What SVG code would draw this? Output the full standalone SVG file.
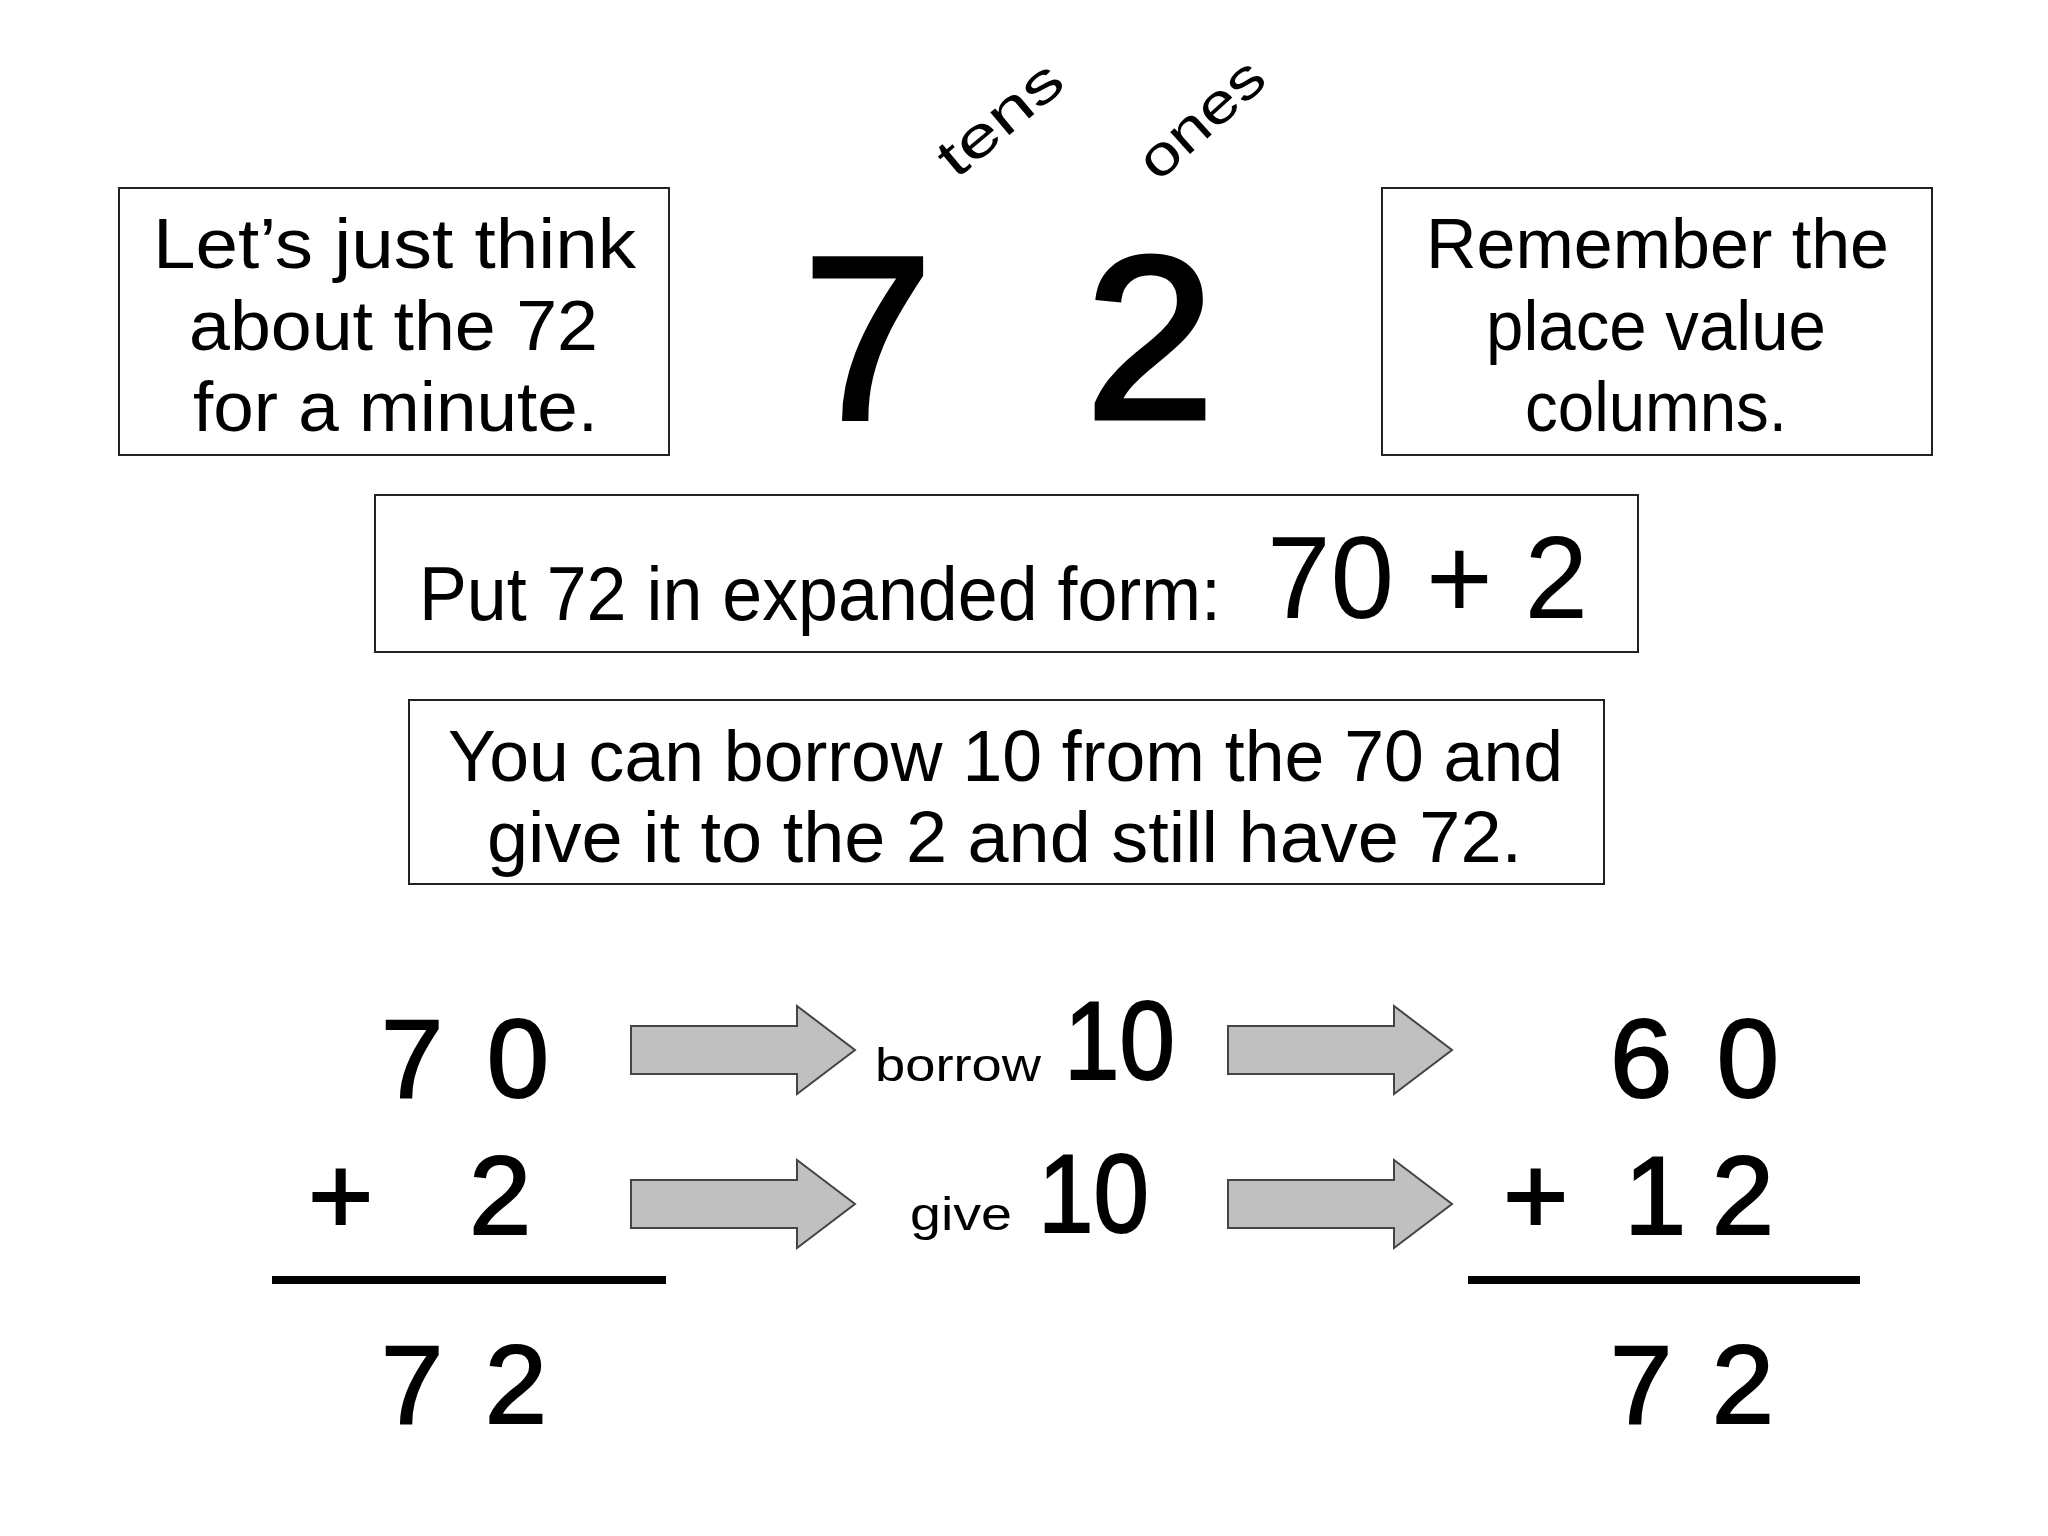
<svg xmlns="http://www.w3.org/2000/svg" width="2048" height="1536" viewBox="0 0 2048 1536">
<style>
text{font-family:"Comic Sans MS","Liberation Sans","DejaVu Sans",sans-serif;fill:#000}
.box{fill:#fff;stroke:#222;stroke-width:2}
.t70{font-size:70px}
.mid{text-anchor:middle}
.arrow{fill:#c0c0c0;stroke:#444;stroke-width:2}
.rule{stroke:#000;stroke-width:8}
.big{font-size:112px;stroke:#000;stroke-width:2}
.huge{font-size:232px;stroke:#000;stroke-width:5;text-anchor:middle}
</style>
<defs>
<path id="arr" d="M0,-24 H166 V-44 L224,0 L166,44 V24 H0 Z" class="arrow"/>
</defs>
<rect width="2048" height="1536" fill="#fff"/>

<g id="left-box">
<rect class="box" x="119" y="188" width="550" height="267"/>
<text class="t70" x="153" y="268" textLength="483" lengthAdjust="spacingAndGlyphs">Let’s just think</text>
<text class="t70" x="189" y="350" textLength="409" lengthAdjust="spacingAndGlyphs">about the 72</text>
<text class="t70" x="193" y="431" textLength="405" lengthAdjust="spacingAndGlyphs">for a minute.</text>
</g>

<g id="place-value">
<text class="huge" y="418"><tspan x="900">7</tspan> <tspan x="1150">2</tspan></text>
<text font-size="56" transform="translate(956,180) rotate(-40)" textLength="146" lengthAdjust="spacingAndGlyphs">tens</text>
<text font-size="56" transform="translate(1158,183) rotate(-42)" textLength="150" lengthAdjust="spacingAndGlyphs">ones</text>
</g>

<g id="right-box">
<rect class="box" x="1382" y="188" width="550" height="267"/>
<text class="t70" x="1426" y="268" textLength="463" lengthAdjust="spacingAndGlyphs">Remember the</text>
<text class="t70" x="1486" y="350" textLength="340" lengthAdjust="spacingAndGlyphs">place value</text>
<text class="t70" x="1525" y="431" textLength="262" lengthAdjust="spacingAndGlyphs">columns.</text>
</g>

<g id="expanded-box">
<rect class="box" x="375" y="495" width="1263" height="157"/>
<text font-size="76" x="419" y="620" textLength="802" lengthAdjust="spacingAndGlyphs">Put 72 in expanded form:</text>
<text font-size="116" x="1267" y="618" textLength="321" lengthAdjust="spacingAndGlyphs">70 + 2</text>
</g>

<g id="borrow-box">
<rect class="box" x="409" y="700" width="1195" height="184"/>
<text font-size="72" x="448" y="781" textLength="1115" lengthAdjust="spacingAndGlyphs">You can borrow 10 from the 70 and</text>
<text font-size="72" x="487" y="862" textLength="1035" lengthAdjust="spacingAndGlyphs">give it to the 2 and still have 72.</text>
</g>

<g id="left-sum">
<text class="big" x="381" y="1097" textLength="168" lengthAdjust="spacing">7 0</text>
<text class="big" x="308" y="1234">+</text>
<text class="big" x="469" y="1234">2</text>
<line class="rule" x1="272" y1="1280" x2="666" y2="1280"/>
<text class="big" x="381" y="1423" textLength="166" lengthAdjust="spacing">7 2</text>
</g>

<g id="borrow-label">
<text font-size="46" x="875" y="1081" textLength="166" lengthAdjust="spacingAndGlyphs">borrow</text>
<text class="big" font-size="116" x="1064" y="1079" textLength="111" lengthAdjust="spacingAndGlyphs">10</text>
</g>

<g id="give-label">
<text font-size="46" x="910" y="1230" textLength="102" lengthAdjust="spacingAndGlyphs">give</text>
<text class="big" font-size="116" x="1038" y="1232" textLength="111" lengthAdjust="spacingAndGlyphs">10</text>
</g>

<g id="right-sum">
<text class="big" x="1610" y="1097" textLength="169" lengthAdjust="spacing">6 0</text>
<text class="big" x="1503" y="1234">+</text>
<text class="big" x="1624" y="1234" textLength="150" lengthAdjust="spacing">1 2</text>
<line class="rule" x1="1468" y1="1280" x2="1860" y2="1280"/>
<text class="big" x="1610" y="1423" textLength="164" lengthAdjust="spacing">7 2</text>
</g>

<g id="connectors">
<use href="#arr" x="631" y="1050"/>
<use href="#arr" x="1228" y="1050"/>
<use href="#arr" x="631" y="1204"/>
<use href="#arr" x="1228" y="1204"/>
</g>
</svg>
